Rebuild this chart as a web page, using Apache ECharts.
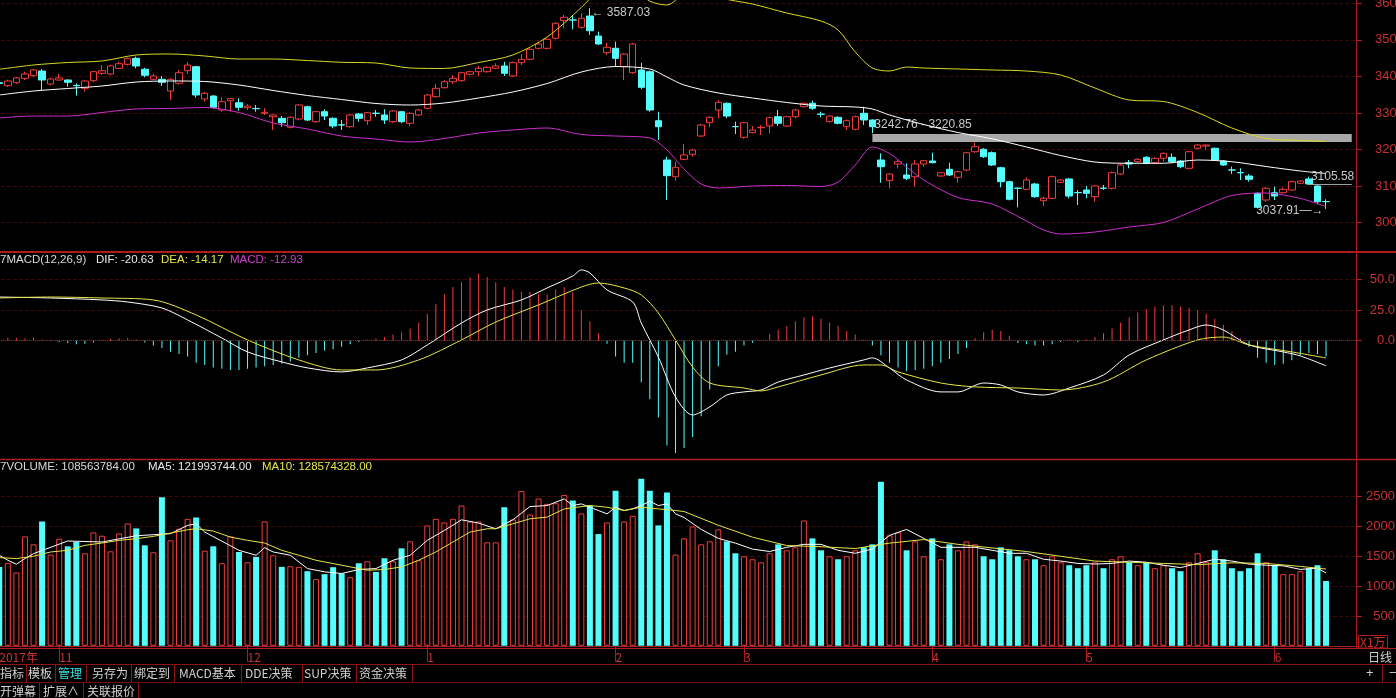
<!DOCTYPE html>
<html><head><meta charset="utf-8">
<script src="https://cdn.jsdelivr.net/npm/echarts@6/dist/echarts.min.js"></script>
<style>html,body{margin:0;padding:0;background:#000;overflow:hidden}#c{width:1396px;height:698px}</style>
</head><body><div id="c"></div>
<script>
// ---- DATA ----
// candles: [open, close, low, high]
const ohlc = [
[3383.0,3381.0,3376.0,3390.0],[3374.7,3387.6,3371.0,3391.0],[3382.9,3395.8,3380.0,3398.0],[3395.0,3406.7,3390.3,3413.0],
[3402.1,3417.7,3399.0,3421.0],[3414.9,3390.3,3361.0,3420.4],[3379.4,3393.0,3376.0,3396.0],[3390.3,3395.8,3388.4,3406.7],
[3390.3,3384.0,3372.0,3392.0],[3375.5,3374.7,3347.4,3381.3],[3367.6,3387.6,3358.3,3390.0],[3388.4,3413.0,3385.0,3416.0],
[3408.6,3415.7,3404.0,3431.3],[3406.7,3428.6,3403.0,3432.0],[3422.3,3434.9,3420.0,3440.3],[3433.2,3449.6,3430.0,3452.0],
[3449.6,3428.6,3422.3,3454.0],[3419.6,3403.2,3397.7,3423.9],[3392.2,3401.2,3390.0,3406.7],[3392.2,3384.0,3373.9,3401.2],
[3360.2,3392.2,3335.6,3395.0],[3381.3,3410.3,3378.0,3417.7],[3415.7,3431.3,3406.7,3440.3],[3426.7,3349.3,3341.9,3429.0],
[3338.3,3353.9,3330.9,3358.3],[3346.5,3315.6,3312.0,3349.0],[3308.3,3330.9,3303.6,3343.0],[3333.7,3339.2,3303.6,3341.0],
[3328.2,3315.6,3306.3,3340.2],[3314.6,3319.2,3308.3,3324.7],[3312.5,3311.8,3303.6,3321.9],[3299.2,3301.9,3294.6,3312.9],
[3289.9,3294.6,3253.6,3296.0],[3285.5,3273.5,3262.6,3291.8],[3260.9,3288.3,3258.0,3291.0],[3283.6,3321.9,3280.0,3325.0],
[3317.3,3280.9,3278.0,3320.0],[3276.2,3303.6,3273.0,3306.0],[3303.6,3291.8,3280.9,3310.2],[3285.5,3264.5,3258.2,3288.0],
[3267.7,3267.2,3253.6,3280.9],[3262.6,3294.6,3260.0,3297.0],[3297.3,3285.5,3276.3,3300.0],[3279.0,3300.9,3267.2,3303.0],
[3299.5,3299.0,3290.0,3308.3],[3294.6,3280.9,3270.0,3310.2],[3276.3,3305.5,3273.0,3308.0],[3303.6,3276.3,3271.9,3306.0],
[3271.9,3299.2,3264.5,3302.0],[3294.6,3308.3,3292.0,3311.0],[3312.9,3349.3,3310.0,3352.0],[3344.6,3367.6,3342.0,3379.4],
[3369.2,3385.6,3367.0,3390.3],[3385.6,3394.9,3379.4,3404.0],[3388.4,3410.3,3386.0,3413.0],[3405.9,3413.0,3403.0,3416.0],
[3413.0,3422.3,3401.2,3428.6],[3413.0,3425.0,3410.0,3428.0],[3422.3,3428.6,3420.0,3436.0],[3428.6,3408.6,3401.2,3440.3],
[3401.2,3437.6,3398.0,3441.0],[3437.6,3446.9,3431.3,3461.4],[3446.9,3474.3,3444.0,3477.0],[3477.0,3488.8,3474.0,3495.1],
[3477.0,3501.6,3474.0,3504.0],[3504.4,3545.4,3501.0,3548.0],[3552.5,3561.8,3531.7,3568.1],[3554.7,3554.1,3529.0,3568.1],
[3534.4,3559.0,3531.0,3572.7],[3565.3,3525.1,3513.4,3587.03],[3510.6,3488.8,3486.0,3522.4],[3465.0,3479.7,3458.7,3492.3],
[3477.0,3449.6,3426.7,3495.1],[3426.7,3461.4,3390.3,3464.0],[3410.3,3488.8,3407.0,3492.0],[3417.7,3370.3,3364.9,3437.6],
[3413.0,3308.3,3303.6,3416.0],[3279.0,3262.6,3226.2,3303.6],[3171.5,3128.6,3062.1,3180.5],[3125.8,3151.5,3114.9,3166.9],
[3173.4,3185.2,3171.0,3215.3],[3187.1,3198.9,3180.5,3201.0],[3237.1,3267.2,3234.0,3270.0],[3273.5,3288.3,3260.9,3291.0],
[3308.3,3329.3,3285.5,3335.6],[3326.6,3291.8,3285.5,3329.0],[3263.0,3262.6,3242.6,3276.3],[3233.6,3273.5,3230.0,3276.0],
[3246.2,3253.6,3244.5,3264.5],[3260.0,3261.0,3239.9,3267.2],[3264.5,3287.2,3244.5,3290.0],[3289.9,3271.9,3264.5,3308.3],
[3264.5,3289.9,3262.0,3292.0],[3289.9,3308.3,3285.5,3311.0],[3317.3,3326.6,3315.0,3329.0],[3326.6,3312.9,3308.3,3333.7],
[3297.0,3296.5,3288.3,3303.6],[3276.3,3291.8,3274.0,3294.0],[3288.3,3271.9,3269.0,3291.0],[3262.6,3279.0,3253.6,3282.0],
[3255.5,3289.9,3253.0,3293.0],[3299.2,3280.9,3267.2,3317.3],[3280.9,3262.6,3244.5,3283.0],[3171.5,3153.2,3109.4,3189.8],
[3114.9,3133.2,3094.1,3136.0],[3160.6,3166.9,3148.8,3173.4],[3130.5,3121.4,3116.8,3162.5],[3125.8,3160.6,3098.5,3171.5],
[3160.6,3169.6,3153.2,3172.0],[3168.8,3164.1,3162.5,3191.5],[3127.7,3136.8,3125.8,3139.0],[3146.1,3130.5,3127.7,3164.1],
[3124.2,3139.5,3109.4,3142.0],[3144.2,3191.5,3141.0,3194.0],[3194.2,3207.9,3191.0,3218.8],[3200.8,3180.5,3177.0,3204.0],
[3191.5,3157.8,3155.0,3195.0],[3150.4,3112.2,3096.9,3153.0],[3112.2,3064.0,3061.0,3115.0],[3094.5,3094.1,3042.1,3096.0],
[3091.4,3116.8,3089.0,3124.2],[3105.9,3071.1,3068.0,3109.0],[3060.2,3066.8,3045.7,3071.1],[3066.8,3125.8,3064.0,3129.0],
[3110.5,3116.8,3108.0,3119.0],[3119.6,3073.0,3066.7,3122.0],[3082.5,3082.0,3048.4,3089.5],[3089.5,3080.4,3066.7,3100.4],
[3071.1,3100.4,3057.5,3103.0],[3094.5,3094.1,3089.5,3103.1],[3094.1,3136.8,3091.0,3140.0],[3133.2,3157.8,3130.0,3161.0],
[3164.1,3160.6,3148.8,3171.5],[3166.9,3173.4,3164.0,3176.1],[3178.9,3162.5,3160.0,3182.0],[3164.1,3176.1,3161.0,3179.0],
[3176.1,3189.8,3166.9,3192.0],[3178.9,3166.9,3162.5,3189.8],[3168.8,3153.2,3148.8,3171.0],[3148.8,3194.2,3146.0,3197.0],
[3203.5,3212.5,3201.0,3215.0],[3209.8,3212.5,3198.9,3214.0],[3203.5,3171.5,3169.0,3206.0],[3168.8,3157.8,3155.0,3171.0],
[3144.4,3144.0,3133.2,3153.2],[3137.0,3136.6,3116.8,3148.8],[3127.7,3118.7,3112.2,3133.2],[3080.4,3042.1,3039.0,3083.0],
[3062.1,3094.1,3057.5,3097.0],[3082.1,3073.0,3062.1,3098.5],[3082.1,3091.4,3080.0,3096.9],[3089.5,3112.2,3087.0,3115.0],
[3107.8,3114.1,3105.6,3116.0],[3119.5,3105.8,3103.0,3125.8],[3100.4,3057.5,3050.3,3102.5],[3058.0,3057.5,3037.91,3064.0]
];
// Bollinger lines: [dayIndex, value]
const bollUpper = [[0,3419.6],[4,3431.3],[8,3438.2],[12,3442.3],[16,3458.7],[20,3461.4],[24,3456.0],[28,3447.7],[32,3447.7],[36,3443.6],[40,3438.7],[44,3436.8],[48,3423.1],[52,3421.8],[56,3438.2],[60,3458.7],[64,3507.9],[68,3588.6],[70,3636.4],[72,3663.8],[74,3641.9],[76,3606.0],[78,3595.4],[80,3625.5],[82,3631.0],[84,3616.0],[86,3606.4],[88,3598.2],[92,3573.5],[96,3551.7],[98,3527.0],[100,3466.9],[102,3423.1],[104,3414.9],[106,3425.8],[108,3423.1],[112,3420.4],[116,3417.7],[120,3414.9],[124,3404.0],[128,3368.4],[132,3335.6],[136,3331.5],[140,3301.4],[144,3259.0],[148,3230.3],[152,3224.8],[155,3222.6]];
const bollMid = [[0,3349.3],[4,3360.2],[8,3367.1],[12,3373.9],[16,3384.8],[20,3387.6],[24,3386.2],[28,3376.6],[32,3361.6],[36,3347.9],[40,3337.0],[44,3326.0],[48,3321.9],[52,3327.4],[56,3341.1],[60,3357.5],[64,3380.7],[68,3412.2],[72,3427.2],[76,3420.4],[78,3398.5],[80,3376.6],[84,3354.8],[88,3341.1],[92,3328.8],[96,3319.2],[100,3316.5],[102,3311.0],[104,3294.6],[108,3268.6],[112,3246.7],[116,3229.5],[120,3207.1],[124,3183.8],[128,3166.0],[132,3162.5],[136,3162.5],[140,3171.5],[144,3166.8],[148,3153.7],[152,3141.4],[155,3134.6]];
const bollLower = [[0,3286.4],[4,3291.8],[8,3291.8],[12,3301.4],[16,3311.0],[20,3312.4],[24,3315.1],[28,3301.4],[32,3272.7],[36,3256.3],[40,3237.1],[44,3228.9],[48,3220.7],[52,3230.3],[56,3245.3],[60,3253.6],[64,3259.0],[68,3241.3],[72,3237.1],[76,3231.7],[78,3198.9],[80,3146.9],[82,3105.9],[84,3094.9],[88,3100.4],[92,3101.8],[96,3099.0],[98,3111.3],[100,3157.8],[102,3207.1],[104,3189.3],[106,3152.4],[108,3116.8],[112,3068.9],[116,3051.2],[120,3004.7],[122,2980.1],[124,2969.1],[128,2974.6],[132,2988.3],[136,3000.6],[140,3037.5],[144,3074.4],[148,3081.3],[152,3066.2],[155,3044.3]];
// MACD
const macdHist = [2,2.5,2.5,2,2.5,1,0.5,-1,-2,-3,-2.5,-1.5,0.5,1.5,2,2.5,1,-1.5,-4,-6,
-9,-11,-13,-18,-20,-22,-23,-24,-24,-23,-22,-21,-20,-19,-17,-14,-12,-10,-8,-7,
-5,-3,-1,1,2,3,5,7,10,15,22,30,38,44,48,52,55,52,48,44,
42,40,40,38,38,42,44,40,25,16,6,-2.5,-13,-18,-18,-34,-48,-63,-86,-92,
-88,-79,-62,-40,-21,-11.5,-9,-4,-1.6,0.5,5.7,9,12,16,19,20,18,15,12,8,
5,1,-4,-12,-18,-22,-25,-24,-23,-21,-18,-15,-11,-6,2,7,9,8,4,-2,
-3,-4,-4,-3,-1,1,-1,1,3,6,10,15,19,23,26,28,29,29,28,27,
25,22,18,13,8,2,-5,-14,-18,-20,-19,-16,-12,-10,-11,-12.93];
const macdDif = [[0,35.8],[6,35.0],[12,33.4],[15,31.7],[19,26.8],[22,17.0],[26,2.2],[29,-9.2],[33,-17.4],[36,-22.3],[40,-25.6],[43,-22.3],[47,-15.8],[50,-3.5],[54,14.5],[57,25.2],[61,33.4],[64,43.2],[67,53.0],[68,58.0],[69,55.5],[71,41.6],[74,31.7],[75,14.5],[77,-13.4],[79,-46.1],[81,-60.9],[83,-54.3],[85,-44.5],[87,-42.0],[89,-40.4],[91,-33.9],[94,-28.1],[97,-22.4],[101,-15.8],[102,-14.1],[104,-22.4],[106,-32.2],[110,-42.0],[112,-42.0],[115,-34.7],[117,-36.3],[119,-42.0],[122,-44.5],[125,-38.8],[129,-28.1],[132,-11.7],[136,0.6],[139,8.8],[141,12.9],[143,8.8],[146,-3.5],[150,-9.2],[152,-12.5],[155,-20.63]];
const macdDea = [[0,35.0],[6,35.8],[12,35.0],[18,33.4],[23,21.1],[29,0.6],[35,-15.8],[40,-24.0],[44,-24.0],[49,-15.8],[54,0.6],[58,15.3],[63,29.3],[68,44.0],[70,47.3],[73,43.2],[75,37.5],[77,22.7],[79,0.6],[81,-21.6],[83,-34.7],[87,-38.8],[89,-41.2],[91,-37.9],[96,-28.1],[101,-19.9],[103,-19.9],[105,-25.6],[110,-34.7],[114,-37.9],[119,-38.8],[124,-40.4],[129,-33.9],[134,-15.8],[140,0.6],[143,3.0],[146,-3.5],[151,-9.2],[155,-14.17]];
// Volume (axis units as drawn)
const volume = [1322,1389,1228,1833,1700,2083,1528,1794,1667,1739,1550,1900,1844,1583,1883,2050,1967,1683,1567,2489,
1767,1961,2128,2150,1594,1667,1383,1833,1572,1400,1489,2083,1517,1322,1333,1322,1250,1117,1200,1317,
1211,1150,1383,1417,1239,1467,1417,1633,1750,1433,2017,2128,2067,2128,2350,2083,2083,1733,1733,2322,
2117,2594,2200,2467,2378,2389,2528,2433,2217,2350,1872,2067,2600,2083,2178,2800,2600,2017,2567,1528,
1800,2000,1700,1750,1950,1750,1550,1500,1450,1400,1550,1700,1600,1650,2100,1800,1600,1500,1450,1500,
1600,1650,1700,2750,1850,1900,1600,1750,1500,1800,1450,1700,1600,1750,1700,1500,1450,1650,1600,1500,
1450,1450,1350,1500,1400,1350,1300,1350,1400,1300,1450,1500,1400,1350,1400,1300,1350,1300,1250,1400,
1550,1400,1600,1450,1300,1250,1300,1550,1400,1350,1200,1200,1250,1300,1350,1085.6];
const volMa5 = [[0,1517],[1,1433],[2,1367],[3,1461],[4,1544],[8,1756],[12,1739],[16,1844],[20,1878],[22,2017],[23,2044],[24,1906],[28,1600],[30,1517],[31,1644],[32,1572],[34,1517],[36,1294],[38,1239],[40,1211],[42,1278],[44,1294],[46,1433],[48,1517],[50,1767],[52,1933],[54,2111],[56,2056],[58,1961],[60,2111],[62,2333],[64,2350],[66,2461],[67,2350],[68,2378],[69,2322],[70,2267],[71,2211],[72,2322],[73,2267],[74,2294],[75,2350],[76,2422],[77,2350],[78,2378],[79,2211],
[80,2150],[82,1950],[84,1800],[86,1720],[88,1620],[90,1580],[92,1650],[94,1700],[96,1700],[98,1600],[100,1550],[102,1620],[104,1850],[106,1950],[108,1800],[110,1650],[112,1650],[114,1650],[116,1600],[118,1550],[120,1550],[122,1450],[124,1420],[126,1380],[128,1370],[130,1380],[132,1420],[134,1400],[136,1350],[138,1310],[140,1380],[142,1450],[144,1420],[146,1370],[148,1350],[150,1340],[152,1280],[154,1300],[155,1220]];
const volMa10 = [[0,1478],[2,1461],[4,1500],[6,1572],[8,1600],[10,1683],[12,1722],[14,1767],[16,1794],[18,1833],[20,1889],[22,1944],[23,1961],[25,1922],[27,1822],[29,1767],[31,1722],[33,1600],[35,1517],[37,1433],[39,1378],[41,1322],[43,1267],[45,1278],[47,1322],[49,1433],[51,1572],[53,1739],[55,1906],[57,1961],[58,1961],[60,2044],[62,2128],[64,2156],[66,2294],[69,2350],[71,2322],[73,2267],[75,2322],[77,2294],[79,2267],
[80,2250],[84,2020],[88,1820],[92,1680],[96,1660],[100,1630],[104,1720],[108,1780],[112,1700],[116,1640],[120,1580],[124,1500],[128,1420],[132,1400],[136,1380],[140,1360],[144,1390],[148,1380],[152,1330],[155,1286]];
// axis ticks / labels
const priceTicks = [3000,3100,3200,3300,3400,3500,3600];
const macdTicks = [0,25,50];
const volTicks = [500,1000,1500,2000,2500];
const monthLabels = {0:'2017年',7:'11',29:'12',50:'1',72:'2',87:'3',109:'4',127:'5',149:'6'};
const gapLow = 3220.85, gapHigh = 3242.76, gapStart = 102;
const highIdx = 69, highVal = 3587.03;
const lastHighVal = 3105.58, lastHighIdx = 153;
const lowIdx = 155, lowVal = 3037.91;

// ---- CHART ----
const PAD = 3;
const cats = Array.from({length: ohlc.length + PAD}, (_, i) => String(i));
const LAST = cats.length - 1;
const RED = '#f03c3c', AXR = '#c83232', CYAN = '#54fcfc', YEL = '#e6e64a', MAG = '#d040d0', GRID = '#3c0a0a', SEP = '#b01c1c';
const FONT = '"Liberation Sans","Noto Sans CJK SC",sans-serif';
const CJK = '"Noto Sans CJK SC","Liberation Sans",sans-serif';
const isUp = i => ohlc[i][1] >= ohlc[i][0];

const gridBox = {left: -5, width: 1361, containLabel: false, outerBoundsMode: 'none'};
const grids = [
  Object.assign({top: 0, height: 252}, gridBox),
  Object.assign({top: 252, height: 207}, gridBox),
  Object.assign({top: 459, height: 189}, gridBox)
];
const xAxes = [0,1,2].map(g => ({
  type: 'category', gridIndex: g, data: cats, boundaryGap: true,
  axisLine: {show: g === 2, lineStyle: {color: SEP}},
  axisTick: {show: g === 2, alignWithLabel: true, length: 16, interval: (i) => monthLabels[i] !== undefined, lineStyle: {color: SEP}},
  axisLabel: {show: g === 2, interval: (i) => monthLabels[i] !== undefined, formatter: (v, i) => monthLabels[i] || '',
    color: AXR, fontSize: 12, fontFamily: CJK, align: 'left', margin: 3},
  splitLine: {show: false}
}));
function yAx(g, min, max, ticks, fmt, align, margin, extra) {
  return {type: 'value', gridIndex: g, position: 'right', min: min, max: max,
    axisLine: {show: true, lineStyle: {color: SEP}},
    axisTick: {show: true, length: 6, customValues: ticks, lineStyle: {color: SEP}},
    axisLabel: Object.assign({show: true, customValues: ticks, formatter: fmt, color: AXR, fontSize: 13, fontFamily: FONT, align: align, margin: margin}, extra || {}),
    splitLine: {show: true, lineStyle: {color: GRID, type: 'dashed', width: 1}}
  };
}
const yAxes = [
  yAx(0, 2919.9, 3609.1, priceTicks, v => String(v), 'left', 19, {width: 28, overflow: 'truncate', ellipsis: ''}),
  yAx(1, -97.0, 72.7, macdTicks, v => Number(v).toFixed(1), 'right', 39),
  yAx(2, -37, 3130, volTicks, v => String(v), 'right', 39)
];

const lbl = {color: '#c8c8c8', fontSize: 12, fontFamily: FONT};
const series = [
  {type: 'candlestick', xAxisIndex: 0, yAxisIndex: 0, data: ohlc, barWidth: 7,
    itemStyle: {color: '#000', color0: CYAN, borderColor: RED, borderColor0: CYAN, borderWidth: 1},
    markArea: {silent: true, itemStyle: {color: '#a8a8a8', opacity: 1},
      label: Object.assign({show: true, position: [2, -15], formatter: gapHigh.toFixed(2) + ' - ' + gapLow.toFixed(2)}, lbl),
      data: [[{coord: [gapStart, gapHigh]}, {coord: [LAST, gapLow]}]]},
    markLine: {silent: true, symbol: 'none', lineStyle: {color: '#a0a0a0', type: 'solid', width: 1},
      label: Object.assign({show: true, position: 'insideStartTop', distance: [2, 1], formatter: lastHighVal.toFixed(2)}, lbl),
      data: [[{coord: [lastHighIdx, lastHighVal]}, {coord: [LAST, lastHighVal]}]]},
    markPoint: {silent: true, symbol: 'circle', symbolSize: 1, itemStyle: {color: 'rgba(0,0,0,0)'},
      data: [
        {coord: [highIdx, highVal], label: Object.assign({show: true, position: 'right', distance: 1, offset: [0, 5], formatter: '← ' + highVal.toFixed(2)}, lbl)},
        {coord: [lowIdx, lowVal], label: Object.assign({show: true, position: 'left', distance: 2, offset: [0, 2], formatter: lowVal.toFixed(2) + '—→'}, lbl)}
      ]}
  },
  {type: 'line', xAxisIndex: 0, yAxisIndex: 0, data: bollUpper, smooth: 0.3, symbol: 'none', lineStyle: {color: '#d8d820', width: 1}, z: 3},
  {type: 'line', xAxisIndex: 0, yAxisIndex: 0, data: bollMid, smooth: 0.3, symbol: 'none', lineStyle: {color: '#ffffff', width: 1}, z: 3},
  {type: 'line', xAxisIndex: 0, yAxisIndex: 0, data: bollLower, smooth: 0.3, symbol: 'none', lineStyle: {color: '#cc30cc', width: 1}, z: 3},
  {type: 'bar', xAxisIndex: 1, yAxisIndex: 1, barWidth: 1,
    data: macdHist.map(v => ({value: v, itemStyle: {color: v >= 0 ? RED : CYAN}})),
    markLine: {silent: true, symbol: 'none', label: {show: false}, lineStyle: {color: '#b01818', type: 'dotted', width: 1}, data: [{yAxis: 0}]}},
  {type: 'line', xAxisIndex: 1, yAxisIndex: 1, data: macdDif, smooth: 0.3, symbol: 'none', lineStyle: {color: '#ffffff', width: 1}, z: 3},
  {type: 'line', xAxisIndex: 1, yAxisIndex: 1, data: macdDea, smooth: 0.3, symbol: 'none', lineStyle: {color: YEL, width: 1}, z: 3},
  {type: 'bar', xAxisIndex: 2, yAxisIndex: 2, barWidth: 6,
    data: volume.map((v, i) => ({value: v, itemStyle: isUp(i) ? {color: '#000', borderColor: RED, borderWidth: 1} : {color: CYAN, borderColor: CYAN, borderWidth: 0}}))},
  {type: 'line', xAxisIndex: 2, yAxisIndex: 2, data: volMa5, symbol: 'none', lineStyle: {color: '#ffffff', width: 1}, z: 3},
  {type: 'line', xAxisIndex: 2, yAxisIndex: 2, data: volMa10, symbol: 'none', lineStyle: {color: YEL, width: 1}, z: 3}
];

// UI chrome (header texts, panel separators, tab bar)
const G = [];
function hline(y, x1, x2, c, w) { G.push({type: 'line', silent: true, shape: {x1: x1, y1: y, x2: x2, y2: y}, style: {stroke: c, lineWidth: w || 1}}); }
function vline(x, y1, y2, c) { G.push({type: 'line', silent: true, shape: {x1: x, y1: y1, x2: x, y2: y2}, style: {stroke: c, lineWidth: 1}}); }
function txt(s, x, y, c, size, fam) { G.push({type: 'text', silent: true, x: x, y: y, style: {text: s, fill: c, fontSize: size || 12, fontFamily: fam || FONT, verticalAlign: 'middle', align: 'left'}}); }
hline(252, 0, 1396, SEP, 2);
hline(459.5, 0, 1396, SEP, 1.5);
hline(648.5, 0, 1396, SEP, 1);
hline(664.5, 0, 1396, '#8c1414', 1);
hline(682.5, 0, 1396, '#6a1010', 1);
const headMacd = [['7MACD(12,26,9)', 0, '#d8d8d8'], ['DIF: -20.63', 96, '#e8e8e8'], ['DEA: -14.17', 161, YEL], ['MACD: -12.93', 230, MAG]];
headMacd.forEach(h => txt(h[0], h[1], 260, h[2], 11.5));
const headVol = [['7VOLUME: 108563784.00', 0, '#d8d8d8'], ['MA5: 121993744.00', 148, '#e8e8e8'], ['MA10: 128574328.00', 262, YEL]];
headVol.forEach(h => txt(h[0], h[1], 467, h[2], 11.5));
const tabs1 = [['指标', 0], ['模板', 28], ['管理', 58], ['另存为', 92], ['绑定到', 134], ['MACD基本', 179], ['DDE决策', 245], ['SUP决策', 304], ['资金决策', 359]];
tabs1.forEach(t => txt(t[0], t[1], 673.5, t[0] === '管理' ? '#38e0e0' : '#d0d0d0', 12, CJK));
[26, 55, 86, 131, 174, 241, 302, 356, 412].forEach(x => vline(x + 0.5, 665, 682, '#8c1414'));
const tabs2 = [['开弹幕', 0], ['扩展∧', 43], ['关联报价', 87]];
tabs2.forEach(t => txt(t[0], t[1], 691.5, '#d0d0d0', 12, CJK));
[39, 83, 138].forEach(x => vline(x + 0.5, 683, 698, '#8c1414'));
txt('日线', 1368, 657, '#d0d0d0', 12, CJK);
txt('+', 1366, 673, '#d0d0d0', 13);
vline(1382.5, 665, 682, '#8c1414');
txt('−', 1389, 673, '#d0d0d0', 13);
G.push({type: 'rect', silent: true, shape: {x: 1358.5, y: 635.5, width: 29, height: 12.5}, style: {fill: '#000', stroke: SEP, lineWidth: 1}});
txt('X1万', 1360, 642, AXR, 12, CJK);

const chart = echarts.init(document.getElementById('c'), null, {renderer: 'canvas'});
chart.setOption({
  backgroundColor: '#000', animation: false,
  grid: grids, xAxis: xAxes, yAxis: yAxes, series: series, graphic: G
});
</script></body></html>
